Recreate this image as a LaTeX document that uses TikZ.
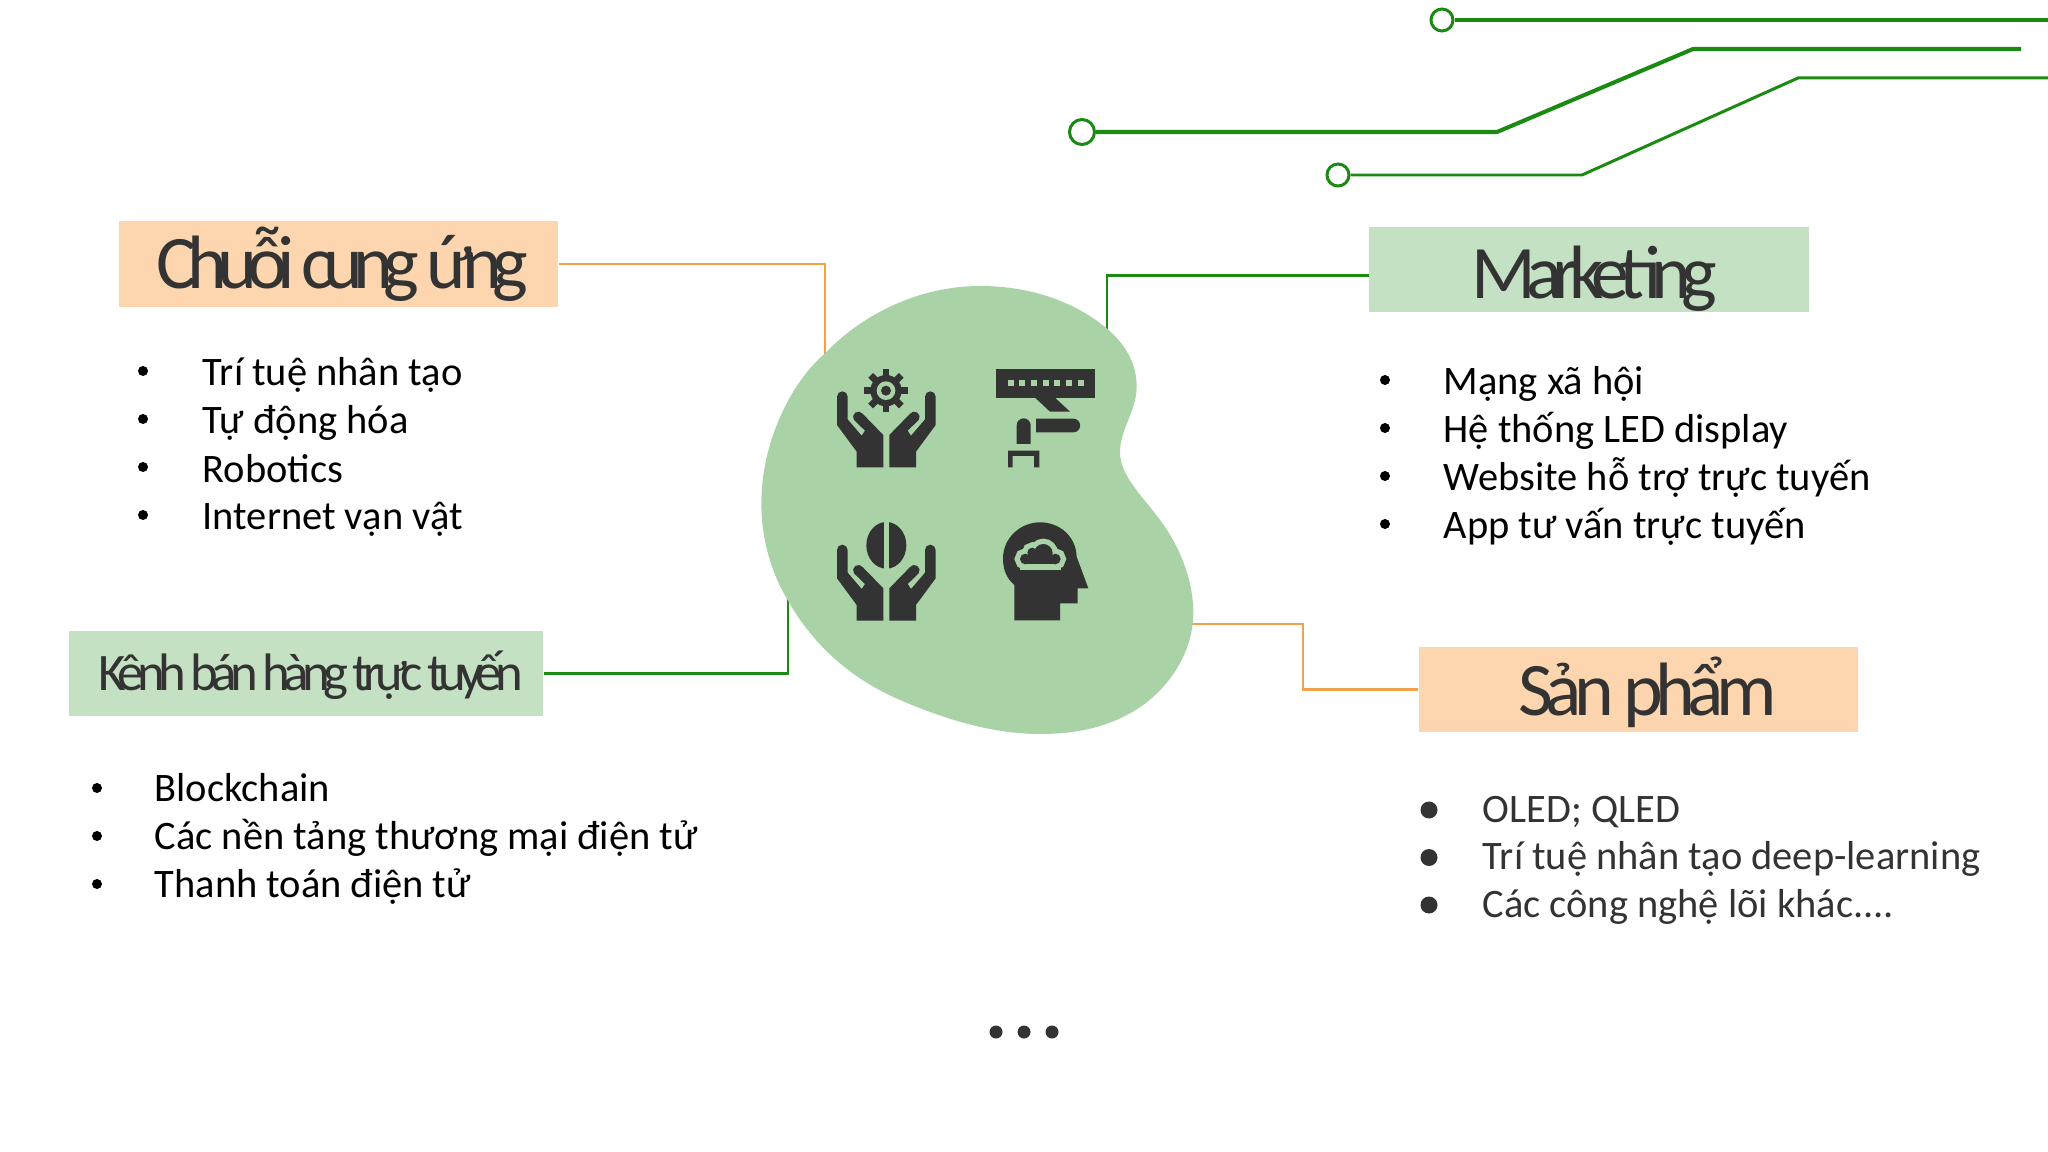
\documentclass[tikz,border=0pt]{standalone}
\usepackage{fontspec}
\setmainfont{Carlito}
\newfontfamily\titlefont[LetterSpace=-13]{Carlito}
\newfontfamily\sanfont[LetterSpace=-10]{Carlito}
\usetikzlibrary{positioning,calc}
\definecolor{peach}{HTML}{FDD6B0}
\definecolor{palegreen}{HTML}{C5E1C3}
\definecolor{blobgreen}{HTML}{A9D3A6}
\definecolor{wireorange}{HTML}{F0A14A}
\definecolor{wiregreen}{HTML}{1B8A12}
\definecolor{icondark}{HTML}{333333}
\tikzset{
  titlebox/.style={minimum width=4.39cm,minimum height=0.85cm,inner sep=0pt,text=icondark,text depth=0pt,font=\titlefont\fontsize{21.5}{24}\selectfont},
  itemtext/.style={anchor=base west,inner sep=0pt,font=\fontsize{11.5}{14}\selectfont},
  wireo/.style={wireorange,line width=0.6pt},
  wireg/.style={wiregreen,line width=0.6pt},
  trace/.style={wiregreen,line width=1.15pt},
  pad/.style={circle,draw=wiregreen,fill=white,line width=0.85pt,inner sep=0pt,minimum size=0.22cm},
}
\newcommand{\coreitem}{Các công nghệ lõi khác....}
\newcommand{\handshape}{(171,170) arc[start angle=180,end angle=360,radius=16] -- (203,238) -- (245,287) -- (255,272) -- (222,240)
  arc[start angle=145,end angle=325,radius=16] -- (310,285) -- (310,382) -- (230,382) -- (230,335) -- (171,255) -- cycle}
\newcommand{\handpair}{%
  \fill[icondark] \handshape;
  \fill[icondark,shift={(638,0)},xscale=-1] \handshape;
}
\begin{document}
\begin{tikzpicture}[x=0.01cm,y=-0.01cm]
\useasboundingbox (0,0) rectangle (2048,1152);
\node[pad] (p1) at (1442,20) {};
\node[pad,minimum size=0.25cm] (p2) at (1082,132) {};
\node[pad] (p3) at (1338,175) {};
\coordinate (e1) at (2048,20);
\coordinate (k2a) at (1497,132);
\coordinate (k2b) at (1693,49);
\coordinate (e2) at (2021,49);
\coordinate (k3a) at (1582,175);
\coordinate (k3b) at (1798,78);
\coordinate (e3) at (2048,78);
\draw[trace] (p1) -- (e1);
\draw[trace] (p2) -- (k2a) -- (k2b) -- (e2);
\draw[trace,line width=0.85pt] (p3) -- (k3a) -- (k3b) -- (e3);
\node[titlebox,fill=peach,text height=0.48cm] (chuoi) at (338.5,264) {\hspace*{2.2pt}Chuỗi cung ứng};
\node[titlebox,fill=palegreen,text height=0.57cm] (marketing) at (1589,269.5) {\hspace*{3pt}Marketing};
\node[titlebox,fill=palegreen,text height=0.33cm,minimum width=4.74cm,font=\titlefont\fontsize{15}{18}\selectfont] (kenh) at (306,673.5) {\hspace*{2.6pt}Kênh bán hàng trực tuyến};
\node[titlebox,fill=peach,text height=0.51cm,font=\sanfont\fontsize{21.5}{24}\selectfont] (sanpham) at (1638.5,689.5) {\hspace*{5.2pt}Sản phẩm};
\coordinate (c1) at (825,365);
\coordinate (c2) at (1107,340);
\coordinate (c3) at (788,590);
\coordinate (c4a) at (1303,624);
\coordinate (c4b) at (1180,624);
\draw[wireo] (chuoi.east) -| (c1);
\draw[wireg] ([yshift=-0.06cm]marketing.west) -| (c2);
\draw[wireg] (kenh.east) -| (c3);
\draw[wireo] (sanpham.west) -| (c4a) -- (c4b);
\begin{scope}[shift={(740,270)},scale=1/3]
\fill[blobgreen] (720,48) .. controls (880,48) and (1010,100) .. (1100,175)
  .. controls (1165,230) and (1190,290) .. (1190,350)
  .. controls (1190,420) and (1140,480) .. (1140,545)
  .. controls (1140,620) and (1210,680) .. (1260,750)
  .. controls (1320,830) and (1360,930) .. (1360,1030)
  .. controls (1360,1150) and (1280,1270) .. (1170,1330)
  .. controls (1090,1375) and (1000,1392) .. (900,1392)
  .. controls (760,1392) and (620,1350) .. (480,1290)
  .. controls (340,1230) and (220,1130) .. (140,985)
  .. controls (90,900) and (64,800) .. (64,700)
  .. controls (64,520) and (150,340) .. (255,250)
  .. controls (370,130) and (540,48) .. (720,48) -- cycle;
\end{scope}
\begin{scope}[shift={(780,340)},scale=1/3]
\handpair
\foreach \a in {0,45,...,315}
  \fill[icondark,rotate around={\a:(318,152)}] (308,87) rectangle (328,125);
\fill[icondark] (318,152) circle[radius=47];
\fill[blobgreen] (318,152) circle[radius=28];
\fill[icondark] (318,152) circle[radius=15];
\begin{scope}[shift={(0,460)}]
\handpair
\fill[icondark] (319,156) circle[x radius=60,y radius=70];
\fill[blobgreen] (312,80) rectangle (326,232);
\end{scope}
\fill[icondark] (648,87) rectangle (945,173);
\foreach \i in {0,...,6}
  \fill[blobgreen] ({683+35*\i},121) rectangle ++(18,18);
\fill[icondark] (765,173) -- (810,215) -- (870,215) -- (825,173) -- cycle;
\fill[icondark] (768,236) -- (880,236) arc[start angle=-90,end angle=90,radius=20.5] -- (768,277) -- cycle;
\fill[icondark] (710,312) -- (710,256) arc[start angle=180,end angle=360,radius=21] -- (752,312) -- cycle;
\fill[icondark] (684,382) -- (684,332) -- (778,332) -- (778,382) -- (762,382) -- (762,348) -- (698,348) -- (698,382) -- cycle;
\fill[icondark] (703,841) -- (703,735) .. controls (680,715) and (669,690) .. (669,655) .. controls (669,595) and (720,547) .. (780,547) .. controls (840,547) and (888,590) .. (890,650) -- (925,745) -- (893,745) -- (893,790) -- (840,790) -- (840,841) -- cycle;
\foreach \cx/\cy/\cr in {736/657/16,826/657/16,790/640/28,757/638/15}
  \draw[blobgreen,fill=blobgreen,line width=3pt] (\cx,\cy) circle[radius=\cr];
\draw[blobgreen,fill=blobgreen,line width=3pt] (736,645) rectangle (826,673);
\foreach \cx/\cy/\cr in {736/657/16,826/657/16,790/640/28,757/638/15}
  \fill[icondark] (\cx,\cy) circle[radius=\cr];
\fill[icondark] (736,645) rectangle (826,673);
\end{scope}
\foreach \t [count=\i from 0] in {Trí tuệ nhân tạo,Tự động hóa,Robotics,Internet vạn vật}{
  \node[itemtext] (lista\i) at (202,386+48*\i) {\t};
  \fill (143,371+48*\i) circle[radius=5];
}
\foreach \t [count=\i from 0] in {Mạng xã hội,Hệ thống LED display,Website hỗ trợ trực tuyến,App tư vấn trực tuyến}{
  \node[itemtext] (listb\i) at (1443,394.5+48*\i) {\t};
  \fill (1385,380+48*\i) circle[radius=5];
}
\foreach \t [count=\i from 0] in {Blockchain,Các nền tảng thương mại điện tử,Thanh toán điện tử}{
  \node[itemtext] (listc\i) at (154,801+48*\i) {\t};
  \fill (97,788+48*\i) circle[radius=5];
}
\foreach \t [count=\i from 0] in {OLED; QLED,Trí tuệ nhân tạo deep-learning,\coreitem}{
  \node[itemtext,text=icondark] (listd\i) at (1482,822+47.5*\i) {\t};
  \fill[icondark] (1429,810+47.5*\i) circle[radius=8.5];
}
\foreach \x in {996,1024,1052}
  \fill[icondark] (\x,1032) circle[radius=6.5];
\end{tikzpicture}
\end{document}
